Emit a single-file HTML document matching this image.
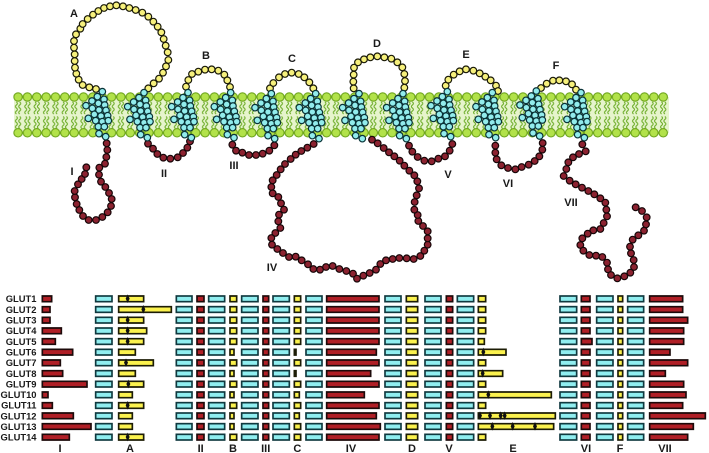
<!DOCTYPE html>
<html><head><meta charset="utf-8"><style>
html,body{margin:0;padding:0;background:#fff}
svg{display:block;position:absolute;left:0;top:0}
polyline{fill:none;stroke:none}
.R{marker-start:url(#mr);marker-mid:url(#mr);marker-end:url(#mr)}
.Y{marker-start:url(#my);marker-mid:url(#my);marker-end:url(#my)}
.C{marker-start:url(#mc);marker-mid:url(#mc);marker-end:url(#mc)}
text{font-family:"Liberation Sans",sans-serif;font-weight:bold;fill:#1a1a1a}
.l{font-size:11px;text-anchor:middle}
.g{font-size:9.4px;text-anchor:end}
.br{fill:#b01f26;stroke:#1c0a0a;stroke-width:5}
.by{fill:#fbf24e;stroke:#1c1c06;stroke-width:5}
.bc{fill:#90eef0;stroke:#10393f;stroke-width:5}
</style></head><body>
<svg width="709" height="453" viewBox="0 0 709 453" xmlns="http://www.w3.org/2000/svg">
<defs>
<marker id="mr" markerUnits="userSpaceOnUse" markerWidth="30" markerHeight="30" viewBox="-15 -15 30 30" overflow="visible"><circle r="10" fill="#8c2230" stroke="#160608" stroke-width="3.6"/></marker>
<marker id="my" markerUnits="userSpaceOnUse" markerWidth="30" markerHeight="30" viewBox="-15 -15 30 30" overflow="visible"><circle r="10" fill="#f6f07c" stroke="#1a1a08" stroke-width="3.6"/></marker>
<marker id="mc" markerUnits="userSpaceOnUse" markerWidth="30" markerHeight="30" viewBox="-15 -15 30 30" overflow="visible"><circle r="9.8" fill="#92ecec" stroke="#0a3338" stroke-width="3.6"/></marker>
<pattern id="ph" patternUnits="userSpaceOnUse" x="13.4" y="92" width="9.35" height="46">
<circle cx="4.67" cy="5" r="4.2" fill="#b2e24a" stroke="#6ea51c" stroke-width="1.1"/>
<circle cx="4.67" cy="40.8" r="4.2" fill="#b2e24a" stroke="#6ea51c" stroke-width="1.1"/>
</pattern>
<pattern id="pt" patternUnits="userSpaceOnUse" x="13.4" y="92" width="9.35" height="46">
<path d="M3 10q2 1.5 0 3t0 3 0 3 0 3M6.3 10q2 1.5 0 3t0 3 0 3 0 3M3 24.5q2 1.5 0 3t0 3 0 3 0 3M6.3 24.5q2 1.5 0 3t0 3 0 3 0 3" fill="none" stroke="#6fae2c" stroke-width="1.1"/>
</pattern>
<polyline id="h" class="C" points="307,275 292,290 312,298 276,303 295,310 314,315 258,317 277,325 297,330 318,331 283,343 303,348 323,347 265,355 287,362 307,365 325,362 295,380 313,380 297,401 317,410"/>
<g id="row">
<rect class="bc" x="287" y="-8" width="49" height="17"/>
<rect class="bc" x="529" y="-8" width="47" height="17"/>
<rect class="br" x="591" y="-8" width="21" height="17"/>
<rect class="bc" x="626" y="-8" width="48" height="17"/>
<rect class="bc" x="725" y="-8" width="49" height="17"/>
<rect class="br" x="789" y="-8" width="17" height="17"/>
<rect class="bc" x="819" y="-8" width="49" height="17"/>
<rect class="bc" x="918" y="-8" width="48" height="17"/>
<rect class="bc" x="1155" y="-8" width="48" height="17"/>
<rect class="by" x="1219" y="-8" width="34" height="17"/>
<rect class="bc" x="1275" y="-8" width="48" height="17"/>
<rect class="br" x="1339" y="-8" width="19" height="17"/>
<rect class="bc" x="1372" y="-8" width="49" height="17"/>
<rect class="bc" x="1680" y="-8" width="50" height="17"/>
<rect class="br" x="1744" y="-8" width="26" height="17"/>
<rect class="bc" x="1790" y="-8" width="49" height="17"/>
<rect class="by" x="1854" y="-8" width="14" height="17"/>
<rect class="bc" x="1883" y="-8" width="48" height="17"/>
</g>
</defs>

<!-- membrane -->
<rect x="14" y="97" width="655" height="36" fill="#e6f4cc"/>
<rect x="13.4" y="92" width="654.5" height="46" fill="url(#pt)"/>
<rect x="13.4" y="92" width="654.5" height="46" fill="url(#ph)"/>

<!-- chains in zoomed coordinates -->
<g transform="scale(.33333)">
<polyline class="Y" points="288,267 268,262 248,255 236,239 229,221 225,203 224,183 224,163 222,143 222,123 228,103 241,86 248,72 263,57 279,44 295,33 312,24 330,19 349,16 369,19 388,24 407,30 427,38 445,50 460,65 473,80 484,97 491,117 497,137 503,157 505,180 498,199 489,218 477,236 461,250 445,265"/>
<polyline class="Y" points="558,260 565,240 576,222 595,215 615,209 635,208 655,212 673,224 682,241 690,261"/>
</g>
<g transform="translate(240,30) scale(.33333)">
<polyline class="Y" points="90,175 100,159 117,142 135,132 155,128 176,132 193,142 208,157 220,175"/>
<polyline class="Y" points="341,175 340,155 341,134 342,113 354,97 372,88 391,82 412,79 433,82 454,86 472,97 487,112 493,132 495,153 493,173"/>
<polyline class="Y" points="617,167 625,149 641,134 659,124 678,118 700,122 719,130 736,140 752,151 768,167 774,183"/>
<polyline class="R" points="507,347 517,365 533,381 553,392 575,394 595,386 615,379 629,362 637,342"/>
</g>
<g transform="translate(470,40) scale(.33333)">
<polyline class="Y" points="213,144 230,131 249,122 268,121 288,124 306,133 318,149"/>
<polyline class="R" points="76,317 76,338 80,358 94,376 114,384 136,388 155,381 176,374 194,363 208,349 217,329 218,309"/>
</g>
<g transform="translate(60,130) scale(.33333)">
<polyline class="R" points="140,40 142,60 139,81 135,101 118,113 117,134 123,155 136,171 147,189 155,207 153,228 143,247 127,261 108,270 86,270 69,258 58,240 50,222 45,202 44,183 54,163 65,147 75,132 79,112"/>
<polyline class="R" points="264,41 279,56 292,72 310,83 331,86 353,82 369,69 382,53 390,34"/>
<polyline class="R" points="517,44 528,62 547,68 567,75 588,75 608,71 628,62 643,46"/>
</g>
<g transform="translate(270,130) scale(.33333)">
<polyline class="R" points="131,42 112,53 94,63 77,74 62,87 45,102 32,118 20,135 8,151 4,171 8,190 25,201 33,220 42,239 27,254 25,274 31,294 16,309 4,324 6,344 22,357 39,369 57,381 77,380 95,391 114,403 130,417 150,419 168,411 188,408 208,417 229,423 249,431 261,446 280,437 299,429 318,419 331,402 348,391 368,387 388,384 410,385 431,387 451,378 463,362 473,344 473,325 473,304 459,288 445,273 443,255 433,239 434,216 440,196 447,175 442,154 433,136 418,122 403,107 389,92 373,79 357,67 341,54 323,40 306,29"/>
</g>
<g transform="translate(540,140) scale(.33333)">
<polyline class="R" points="127,13 137,34 117,42 99,52 85,67 79,87 71,108 89,122 107,133 126,143 145,153 163,163 181,175 196,188 199,209 201,229 191,249 181,267 160,271 143,281 127,295 121,315 130,332 148,345 168,347 187,351 201,368 204,388 213,405 232,415 253,409 271,398 282,381 281,360 273,340 270,320 278,299 295,286 312,272 318,253 320,232 306,213 287,202"/>
</g>

<!-- helices -->
<g transform="scale(.33333)">
<use href="#h"/>
<use href="#h" x="125" y="3"/>
<use href="#h" x="257" y="3"/>
<use href="#h" x="385" y="3"/>
<use href="#h" x="507" y="6"/>
<use href="#h" x="640" y="6"/>
<use href="#h" x="770" y="6"/>
<use href="#h" x="902" y="6"/>
<use href="#h" x="1035" y="0"/>
<use href="#h" x="1170" y="3"/>
<use href="#h" x="1302" y="-2"/>
<use href="#h" x="1436" y="3"/>
</g>

<!-- topology labels -->
<text class="l" x="74" y="17">A</text>
<text class="l" x="206" y="59">B</text>
<text class="l" x="292" y="62">C</text>
<text class="l" x="377" y="47">D</text>
<text class="l" x="466" y="58">E</text>
<text class="l" x="556" y="69">F</text>
<text class="l" x="72" y="175">I</text>
<text class="l" x="164" y="177">II</text>
<text class="l" x="234" y="169">III</text>
<text class="l" x="272" y="271">IV</text>
<text class="l" x="448" y="178">V</text>
<text class="l" x="508" y="187">VI</text>
<text class="l" x="571" y="206">VII</text>

<!-- alignment bars -->
<g transform="translate(0,285) scale(.33333)">
<use href="#row" y="41"/><use href="#row" y="73"/><use href="#row" y="105"/><use href="#row" y="137"/><use href="#row" y="169"/><use href="#row" y="201"/><use href="#row" y="233"/><use href="#row" y="265"/><use href="#row" y="297"/><use href="#row" y="329"/><use href="#row" y="361"/><use href="#row" y="392"/><use href="#row" y="424"/><use href="#row" y="456"/>
<path class="br" d="M127 33h28v17h-28zM127 65h23v17h-23zM127 97h23v17h-23zM127 129h57v17h-57zM127 161h39v17h-39zM127 193h91v17h-91zM127 225h54v17h-54zM127 257h61v17h-61zM127 289h134v17h-134zM127 321h17v17h-17zM127 353h30v17h-30zM127 384h93v17h-93zM127 416h146v17h-146zM127 448h81v17h-81z"/>
<path class="br" d="M980 33h157v17h-157zM980 65h157v17h-157zM980 97h157v17h-157zM980 129h157v17h-157zM980 161h157v17h-157zM980 193h149v17h-149zM980 225h157v17h-157zM980 257h132v17h-132zM980 289h157v17h-157zM980 321h113v17h-113zM980 353h157v17h-157zM980 384h149v17h-149zM980 416h161v17h-161zM980 448h157v17h-157z"/>
<path class="br" d="M1949 33h99v17h-99zM1949 65h99v17h-99zM1949 97h114v17h-114zM1949 129h102v17h-102zM1949 161h102v17h-102zM1949 193h61v17h-61zM1949 225h114v17h-114zM1949 257h47v17h-47zM1949 289h102v17h-102zM1949 321h109v17h-109zM1949 353h99v17h-99zM1949 384h167v17h-167zM1949 416h131v17h-131zM1949 448h114v17h-114z"/>
<rect class="br" x="1744" y="161" width="32" height="17"/>
<path class="by" d="M356 33h75v17h-75zM356 65h158v17h-158zM356 97h75v17h-75zM356 129h84v17h-84zM356 161h75v17h-75zM356 193h50v17h-50zM356 225h104v17h-104zM356 257h50v17h-50zM356 289h75v17h-75zM356 321h41v17h-41zM356 353h75v17h-75zM356 384h41v17h-41zM356 416h41v17h-41zM356 448h75v17h-75z"/>
<path class="by" d="M690 33h20v17h-20zM690 65h20v17h-20zM690 97h20v17h-20zM690 129h20v17h-20zM690 161h20v17h-20zM690 193h12v17h-12zM690 225h20v17h-20zM690 257h12v17h-12zM690 289h20v17h-20zM690 321h12v17h-12zM690 353h20v17h-20zM690 384h12v17h-12zM690 416h12v17h-12zM690 448h20v17h-20z"/>
<path class="by" d="M883 33h19v17h-19zM883 65h19v17h-19zM883 97h19v17h-19zM883 129h19v17h-19zM883 161h19v17h-19zM883 193h5v17h-5zM883 225h19v17h-19zM883 257h5v17h-5zM883 289h19v17h-19zM883 321h15v17h-15zM883 353h19v17h-19zM883 384h15v17h-15zM883 416h19v17h-19zM883 448h19v17h-19z"/>
<path class="by" d="M1435 33h22v17h-22zM1435 65h22v17h-22zM1435 97h22v17h-22zM1435 129h22v17h-22zM1435 161h18v17h-18zM1435 193h83v17h-83zM1435 225h22v17h-22zM1435 257h73v17h-73zM1435 289h22v17h-22zM1435 321h219v17h-219zM1435 353h22v17h-22zM1435 384h231v17h-231zM1435 416h226v17h-226zM1435 448h22v17h-22z"/>
<path fill="#111" d="M383 28l6 13-6 13-6-13zM430 60l6 13-6 13-6-13zM383 92l6 13-6 13-6-13zM383 124l6 13-6 13-6-13zM383 156l6 13-6 13-6-13zM378 220l6 13-6 13-6-13zM385 284l6 13-6 13-6-13zM383 348l6 13-6 13-6-13zM383 443l6 13-6 13-6-13zM1450 188l6 13-6 13-6-13zM1448 252l6 13-6 13-6-13zM1465 316l6 13-6 13-6-13zM1440 379l6 13-6 13-6-13zM1470 379l6 13-6 13-6-13zM1502 379l6 13-6 13-6-13zM1514 379l6 13-6 13-6-13zM1477 411l6 13-6 13-6-13zM1538 411l6 13-6 13-6-13zM1605 411l6 13-6 13-6-13z"/>
</g>

<!-- gene labels -->
<text class="g" x="36.5" y="302.2">GLUT1</text>
<text class="g" x="36.5" y="312.9">GLUT2</text>
<text class="g" x="36.5" y="323.5">GLUT3</text>
<text class="g" x="36.5" y="334.2">GLUT4</text>
<text class="g" x="36.5" y="344.8">GLUT5</text>
<text class="g" x="36.5" y="355.5">GLUT6</text>
<text class="g" x="36.5" y="366.1">GLUT7</text>
<text class="g" x="36.5" y="376.8">GLUT8</text>
<text class="g" x="36.5" y="387.4">GLUT9</text>
<text class="g" x="36.5" y="398.1">GLUT10</text>
<text class="g" x="36.5" y="408.7">GLUT11</text>
<text class="g" x="36.5" y="419.4">GLUT12</text>
<text class="g" x="36.5" y="430">GLUT13</text>
<text class="g" x="36.5" y="440.7">GLUT14</text>

<!-- column labels -->
<text class="l" x="60" y="452">I</text>
<text class="l" x="130" y="452">A</text>
<text class="l" x="200.7" y="452">II</text>
<text class="l" x="233" y="452">B</text>
<text class="l" x="265.7" y="452">III</text>
<text class="l" x="297.3" y="452">C</text>
<text class="l" x="351" y="452">IV</text>
<text class="l" x="412" y="452">D</text>
<text class="l" x="449" y="452">V</text>
<text class="l" x="513" y="452">E</text>
<text class="l" x="586" y="452">VI</text>
<text class="l" x="620" y="452">F</text>
<text class="l" x="665" y="452">VII</text>
</svg>
</body></html>
